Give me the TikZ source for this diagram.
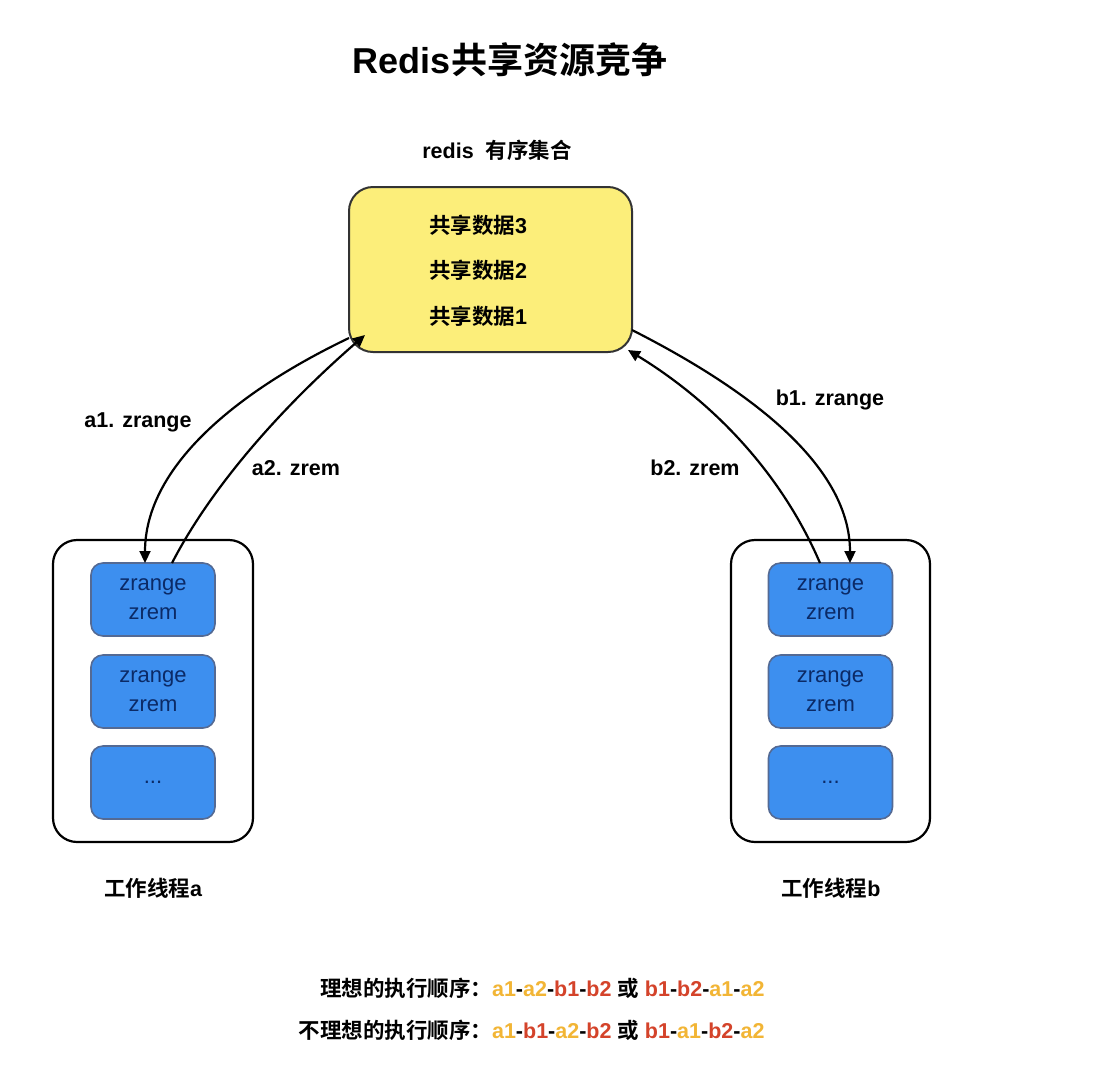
\documentclass[tikz,border=0pt]{standalone}
\usepackage{fontspec}
\setmainfont{Liberation Sans}
\newfontfamily\cjk{Noto Sans CJK SC}[BoldFont={* Bold}]
\usetikzlibrary{arrows.meta}
\definecolor{ylw}{HTML}{FCEE7A}
\definecolor{blu}{HTML}{3D8FEF}
\definecolor{navy}{HTML}{0B2A66}
\definecolor{oa}{HTML}{F2B535}
\definecolor{rb}{HTML}{D4432A}
\begin{document}
\begin{tikzpicture}[x=1pt,y=-1pt,
  lbl/.style={font=\fontsize{21.5}{24}\selectfont\bfseries},
  thread/.style={draw=black,line width=2.2pt,rounded corners=24pt,fill=white},
  task/.style={draw=navy!70,line width=1.6pt,fill=blu,rounded corners=12pt,minimum width=124pt,minimum height=73pt,align=center,text=navy,font=\fontsize{22}{29}\selectfont},
  arr/.style={-{Triangle[length=12pt,width=11pt]},line width=2.2pt}]
\useasboundingbox (0,0) rectangle (1108,1088);
\fill[white] (0,0) rectangle (1108,1088);
\node[font=\fontsize{36}{40}\selectfont\bfseries] (title) at (510,60) {Redis{\cjk 共享资源竞争}};
\node[lbl] (rl) at (497,150) {redis\ \ {\cjk 有序集合}};
\node[draw=black!80,line width=2pt,fill=ylw,rounded corners=24pt,minimum width=283pt,minimum height=165pt] (redis) at (490.5,269.5) {};
\node[lbl] (d3) at (478,225) {{\cjk 共享数据}3};
\node[lbl] (d2) at (478,270) {{\cjk 共享数据}2};
\node[lbl] (d1) at (478,316) {{\cjk 共享数据}1};
\node[thread,minimum width=200pt,minimum height=302pt] (ta) at (153,691) {};
\node[thread,minimum width=199pt,minimum height=302pt] (tb) at (830.5,691) {};
\node[task] (a1) at (153,599.5) {zrange\\zrem};
\node[task] (a2) at (153,691.5) {zrange\\zrem};
\node[task] (a3) at (153,782.5) {...};
\node[task] (b1) at (830.5,599.5) {zrange\\zrem};
\node[task] (b2) at (830.5,691.5) {zrange\\zrem};
\node[task] (b3) at (830.5,782.5) {...};
\node[lbl] (la) at (153,888) {{\cjk 工作线程}a};
\node[lbl] (lb) at (831,888) {{\cjk 工作线程}b};
\coordinate (ra1) at (349,338); \coordinate (ra2) at (365,335);
\coordinate (rb1) at (632,330); \coordinate (rb2) at (628,350);
\coordinate (ea1) at (145,563); \coordinate (sa2) at (172,563);
\coordinate (eb1) at (850,563); \coordinate (sb2) at (820,563);
\draw[arr] (ra1) .. controls (230,395) and (145,470) .. (ea1);
\draw[arr] (sa2) .. controls (215,480) and (290,400) .. (ra2);
\draw[arr] (rb1) .. controls (760,395) and (850,470) .. (eb1);
\draw[arr] (sb2) .. controls (780,470) and (710,400) .. (rb2);
\node[lbl] (t1) at (138,422) {a1. zrange};
\node[lbl] (t2) at (296,468) {a2. zrem};
\node[lbl] (t3) at (830,400) {b1. zrange};
\node[lbl] (t4) at (695,468) {b2. zrem};
\node[lbl,anchor=east] (o1) at (768,988) {{\cjk 理想的执行顺序：}\textcolor{oa}{a1}-\textcolor{oa}{a2}-\textcolor{rb}{b1}-\textcolor{rb}{b2} {\cjk 或} \textcolor{rb}{b1}-\textcolor{rb}{b2}-\textcolor{oa}{a1}-\textcolor{oa}{a2}};
\node[lbl,anchor=east] (o2) at (768,1030) {{\cjk 不理想的执行顺序：}\textcolor{oa}{a1}-\textcolor{rb}{b1}-\textcolor{oa}{a2}-\textcolor{rb}{b2} {\cjk 或} \textcolor{rb}{b1}-\textcolor{oa}{a1}-\textcolor{rb}{b2}-\textcolor{oa}{a2}};
\end{tikzpicture}
\end{document}
